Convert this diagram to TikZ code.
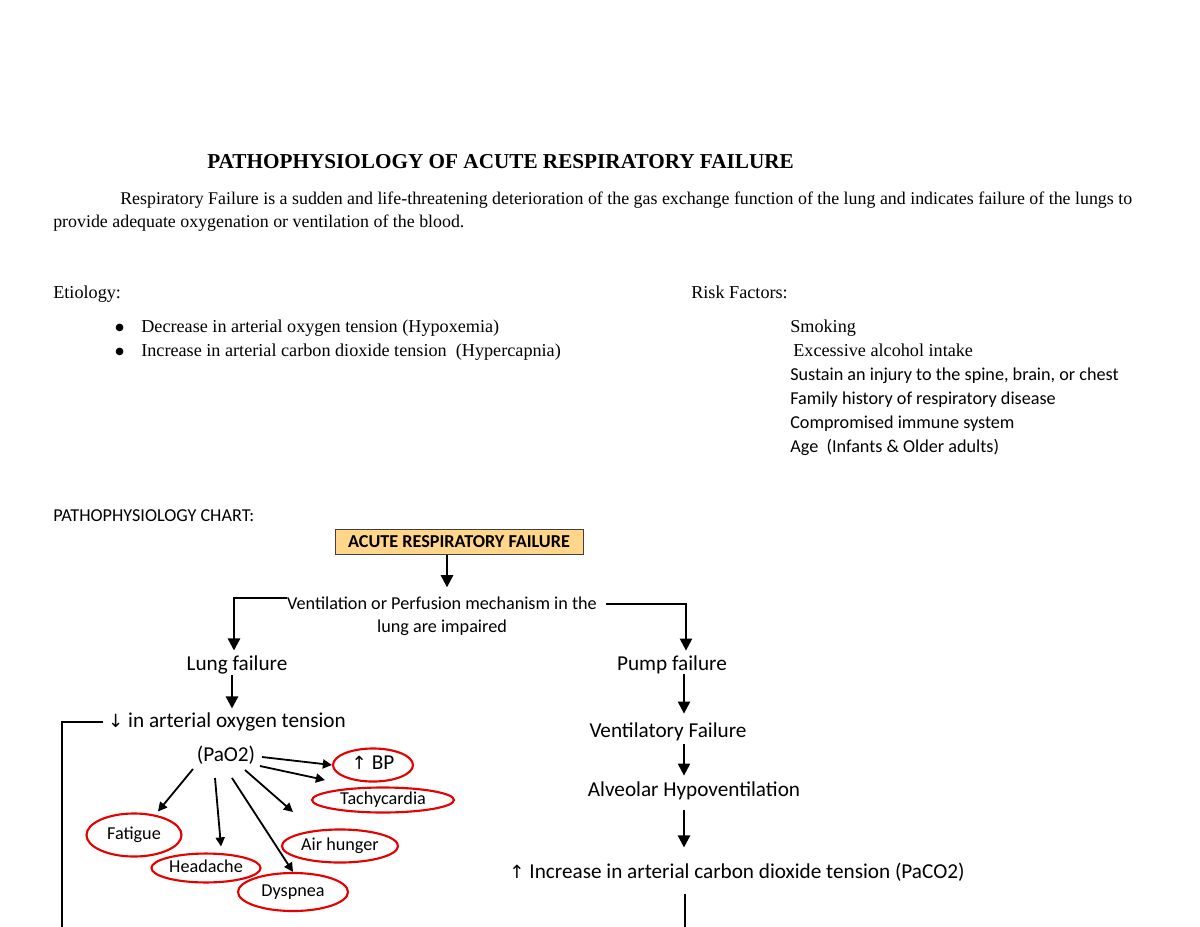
\documentclass[tikz,border=0pt]{standalone}
\usepackage{fontspec}
\setmainfont{Liberation Serif}
\newfontfamily\calib{Carlito}
\newfontfamily\dvs{DejaVu Sans}
\usetikzlibrary{arrows.meta,calc,shapes.geometric}
\definecolor{boxfill}{HTML}{FFD68A}
\definecolor{bubred}{HTML}{E60000}
\begin{document}
\begin{tikzpicture}[x=0.66pt,y=-0.66pt,
  txt/.style={inner sep=0pt, anchor=base west, font=\fontsize{12}{14}\selectfont},
  rf/.style={inner sep=0pt, anchor=base west, font=\calib\fontsize{12}{14}\selectfont},
  ch/.style={inner sep=0pt, font=\calib\fontsize{14}{16}\selectfont},
  chs/.style={inner sep=0pt, font=\calib\fontsize{12}{14}\selectfont},
  bub/.style={ellipse, draw=bubred, line width=1.4pt, inner sep=0pt,
    text height=7pt, text depth=1.5pt, font=\calib\fontsize{12}{14}\selectfont},
  big/.style={line width=1.5pt, -{Triangle[length=8pt,width=8pt]}},
  sml/.style={line width=1.2pt, -{Triangle[length=6pt,width=6pt]}},
  bul/.style={inner sep=0pt, anchor=base west, font=\dvs\fontsize{6.5}{7}\selectfont},
  ]
\useasboundingbox[fill=white] (0,0) rectangle (1200,927);

% header text
\node[txt, font=\bfseries\fontsize{14}{16}\selectfont] (title) at (207,168) {PATHOPHYSIOLOGY OF ACUTE RESPIRATORY FAILURE};
\node[txt, font=\fontsize{11.8}{14}\selectfont] (p1) at (120,204) {Respiratory Failure is a sudden and life-threatening deterioration of the gas exchange function of the lung and indicates failure of the lungs to};
\node[txt, font=\fontsize{11.8}{14}\selectfont] (p2) at (53,227) {provide adequate oxygenation or ventilation of the blood.};
\node[txt] (etio) at (53,298) {Etiology:};
\node[bul] (b1) at (115,330) {●};
\node[txt] (e1) at (141,332) {Decrease in arterial oxygen tension (Hypoxemia)};
\node[bul] (b2) at (115,354) {●};
\node[txt] (e2) at (141,356) {Increase in arterial carbon dioxide tension\ \ (Hypercapnia)};
\node[txt] (risk) at (691,298) {Risk Factors:};
\node[txt] (r1) at (790,332) {Smoking};
\node[txt] (r2) at (793,356) {Excessive alcohol intake};
\node[rf] (r3) at (790,380) {Sustain an injury to the spine, brain, or chest};
\node[rf] (r4) at (790,404) {Family history of respiratory disease};
\node[rf] (r5) at (790,428) {Compromised immune system};
\node[rf] (r6) at (790,452) {Age\ \ (Infants \& Older adults)};

\node[rf] (chart) at (53,521) {PATHOPHYSIOLOGY CHART:};

% chart
\node[draw=black!75, line width=0.6pt, fill=boxfill, minimum width=163.7pt, minimum height=16.5pt, inner sep=0pt,
  font=\calib\bfseries\fontsize{12}{14}\selectfont] (arf) at (459,542) {ACUTE RESPIRATORY FAILURE};
\node[chs] (vent1) at (442,603) {Ventilation or Perfusion mechanism in the};
\node[chs] (vent2) at (442,628) {lung are impaired};
\node[ch] (lung) at (237,665) {Lung failure};
\node[ch] (pump) at (672,665) {Pump failure};
\node[ch] (o2) at (227,722) {{\dvs\fontsize{12}{14}\selectfont ↓} in arterial oxygen tension};
\node[ch] (pao2) at (226,755) {(PaO2)};
\node[ch] (vfail) at (668,732) {Ventilatory Failure};
\node[ch] (alv) at (694,791) {Alveolar Hypoventilation};
\node[ch] (inc) at (737,872) {{\dvs\fontsize{12}{14}\selectfont ↑} Increase in arterial carbon dioxide tension (PaCO2)};

% bubbles
\node[bub, minimum width=52.8pt, minimum height=21.8pt, font=\calib\fontsize{14}{16}\selectfont] (bp) at (373,765) {{\dvs\fontsize{12}{14}\selectfont ↑} BP};
\node[bub, minimum width=93.7pt, minimum height=16.5pt] (tachy) at (383,800) {Tachycardia};
\node[bub, minimum width=62.7pt, minimum height=28.4pt] (fat) at (134,835) {Fatigue};
\node[bub, minimum width=76.6pt, minimum height=21.8pt] (airh) at (340,846) {Air hunger};
\node[bub, minimum width=72pt, minimum height=19.1pt] (head) at (206,868) {Headache};
\node[bub, minimum width=72.6pt, minimum height=25.1pt] (dysp) at (293,892) {Dyspnea};

% coordinates
\coordinate (rc) at (684,0);
\coordinate (lb) at (62,927);
\coordinate (rb) at (685,927);

% connectors
\draw[big] ($(arf.south)+(-12,0)$) -- ($(vent1.north)+(5,-9)$);
\draw[big] ($(vent1.west)+(0,-5)$) -| ($(lung.north)+(-3,-5)$);
\draw[big] ($(vent1.east)+(9,1)$) -| ($(pump.north)+(14,-5)$);
\draw[big] ($(lung.south)+(-5,1)$) -- ($(o2.north -| lung.south)+(-5,-4)$);
\draw[line width=1.3pt] ($(o2.west)+(-5,0)$) -| (lb);

\draw[big] ($(pump.south -| rc)+(0,0)$) -- ($(vfail.north -| rc)+(0,-9)$);
\draw[big] ($(vfail.south -| rc)+(0,3)$) -- ($(alv.north -| rc)+(0,-6)$);
\draw[big] ($(alv.south -| rc)+(0,10)$) -- ($(inc.north -| rc)+(0,-15)$);
\draw[line width=1.5pt] ($(inc.south -| rc)+(1,12)$) -- (rb);

\draw[sml] ($(pao2)+(36,2)$) -- (bp.west);
\draw[sml] ($(pao2)+(34,11)$) -- ($(tachy.west)+(14,-20)$);
\draw[sml] ($(pao2)+(19,15)$) -- ($(airh.center)+(-47,-34)$);
\draw[sml] ($(pao2)+(6,23)$) -- (dysp.north);
\draw[sml] ($(pao2)+(-11,23)$) -- ($(head.north)+(15,-6)$);
\draw[sml] ($(pao2)+(-33,14)$) -- ($(fat.north)+(24,-1)$);
\end{tikzpicture}
\end{document}
